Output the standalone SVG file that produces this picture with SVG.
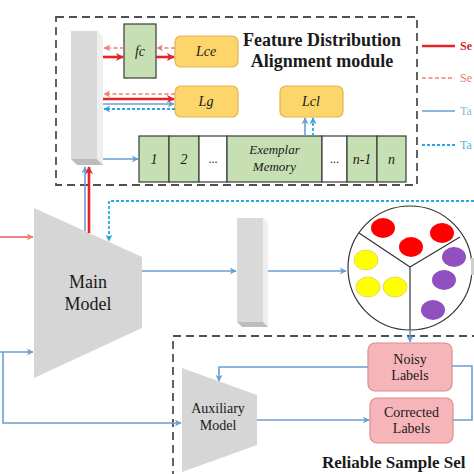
<svg xmlns="http://www.w3.org/2000/svg" width="474" height="474" viewBox="0 0 474 474">
<style>
.serif{font-family:"Liberation Serif","Times New Roman",serif;fill:#1a1a1a}
.it{font-style:italic}
.bold{font-weight:bold}
.dbox{fill:none;stroke:#505050;stroke-width:1.8;stroke-dasharray:8,5}
.red{fill:none;stroke:#e2232a;stroke-width:2.6}
.redthin{fill:none;stroke:#e85a5a;stroke-width:1.5}
.lred{fill:none;stroke:#ef7f72;stroke-width:1.5;stroke-dasharray:4,2.5}
.blue{fill:none;stroke:#6a9ed2;stroke-width:1.6}
.cyan{fill:none;stroke:#2aa7de;stroke-width:1.8;stroke-dasharray:3,2}
.cell{fill:#c6e0b4;stroke:#3a3a3a;stroke-width:1.2}
.white{fill:#ffffff;stroke:#3a3a3a;stroke-width:1.2}
.loss{fill:#fcd56b;stroke:#e3b550;stroke-width:1.2}
.pink{fill:#f6b6b9;stroke:#e08a8e;stroke-width:1.2}
.front{fill:#d9d9d9}
.side{fill:#efefef}
.bottom{fill:#bdbdbd}
.model{fill:#d6d6d6}
</style>
<defs>
<marker id="ar" viewBox="0 0 10 10" refX="9" refY="5" markerWidth="8" markerHeight="8" markerUnits="userSpaceOnUse" orient="auto"><path d="M0,0 L10,5 L0,10 L3,5 z" fill="#e2232a"/></marker>
<marker id="arl" viewBox="0 0 10 10" refX="9" refY="5" markerWidth="7" markerHeight="7" markerUnits="userSpaceOnUse" orient="auto"><path d="M0,0 L10,5 L0,10 L3,5 z" fill="#ef7f72"/></marker>
<marker id="ab" viewBox="0 0 10 10" refX="9" refY="5" markerWidth="7" markerHeight="7" markerUnits="userSpaceOnUse" orient="auto"><path d="M0,0 L10,5 L0,10 L3,5 z" fill="#6a9ed2"/></marker>
<marker id="ac" viewBox="0 0 10 10" refX="9" refY="5" markerWidth="7" markerHeight="7" markerUnits="userSpaceOnUse" orient="auto"><path d="M0,0 L10,5 L0,10 L3,5 z" fill="#2aa7de"/></marker>
</defs>
<rect width="474" height="474" fill="#ffffff"/>

<g id="fda-module">
<rect class="dbox" x="56" y="17" width="361" height="168"/>
<text class="serif bold" x="322" y="46" font-size="18" text-anchor="middle">Feature Distribution</text>
<text class="serif bold" x="322" y="67" font-size="18" text-anchor="middle">Alignment module</text>
</g>

<g id="feature-pillar">
<rect class="front" x="71" y="31" width="26" height="128"/>
<polygon class="side" points="97,31 103,37 103,165 97,159"/>
<polygon class="bottom" points="71,159 97,159 103,165 77,165"/>
</g>

<g id="fc">
<rect class="cell" x="124" y="24" width="32" height="54"/>
<text class="serif it" x="140" y="56" font-size="14" text-anchor="middle">fc</text>
</g>
<g id="Lce">
<rect class="loss" x="175" y="36" width="63" height="31" rx="6"/>
<text class="serif it" x="206" y="56" font-size="14" text-anchor="middle">Lce</text>
</g>
<g id="Lg">
<rect class="loss" x="175" y="86" width="63" height="31" rx="6"/>
<text class="serif it" x="206" y="106" font-size="14" text-anchor="middle">Lg</text>
</g>
<g id="Lcl">
<rect class="loss" x="280" y="86" width="63" height="31" rx="6"/>
<text class="serif it" x="311" y="106" font-size="14" text-anchor="middle">Lcl</text>
</g>

<g id="exemplar-memory">
<rect class="cell" x="139" y="136" width="30" height="46"/>
<rect class="cell" x="169" y="136" width="30" height="46"/>
<rect class="white" x="199" y="136" width="28" height="46"/>
<rect class="cell" x="227" y="136" width="95" height="46"/>
<rect class="white" x="322" y="136" width="25" height="46"/>
<rect class="cell" x="347" y="136" width="30" height="46"/>
<rect class="cell" x="377" y="136" width="29" height="46"/>
<text class="serif it" x="154" y="164" font-size="14" text-anchor="middle">1</text>
<text class="serif it" x="184" y="164" font-size="14" text-anchor="middle">2</text>
<text class="serif" x="213" y="163" font-size="12" text-anchor="middle">...</text>
<text class="serif it" x="274.5" y="154" font-size="13" text-anchor="middle">Exemplar</text>
<text class="serif it" x="274.5" y="171" font-size="13" text-anchor="middle">Memory</text>
<text class="serif" x="334.5" y="163" font-size="12" text-anchor="middle">...</text>
<text class="serif it" x="362" y="164" font-size="14" text-anchor="middle">n-1</text>
<text class="serif it" x="391.5" y="164" font-size="14" text-anchor="middle">n</text>
</g>

<g id="legend">
<path class="red" d="M422,46 H455"/>
<text class="serif bold" x="460" y="50" font-size="12" style="fill:#c9262c">Se</text>
<path class="lred" d="M422,78 H455"/>
<text class="serif" x="460" y="82" font-size="12" style="fill:#e8806a">Se</text>
<path class="blue" d="M422,111 H455"/>
<text class="serif" x="460" y="115" font-size="12" style="fill:#8fb6d8">Ta</text>
<path class="cyan" d="M422,145 H455"/>
<text class="serif" x="460" y="149" font-size="12" style="fill:#4fb3dc">Ta</text>
</g>

<g id="main-model">
<polygon class="model" points="34,208 142,257 142,328 34,378"/>
<text class="serif" x="88" y="288" font-size="18" text-anchor="middle">Main</text>
<text class="serif" x="88" y="310" font-size="18" text-anchor="middle">Model</text>
</g>

<g id="feature-pillar-2">
<rect class="front" x="237" y="218" width="26" height="104"/>
<polygon class="side" points="263,218 268,223 268,327 263,322"/>
<polygon class="bottom" points="237,322 263,322 268,327 242,327"/>
</g>

<g id="clusters">
<circle cx="410" cy="268" r="62" fill="#ffffff" stroke="#333" stroke-width="1.2"/>
<path d="M410,267 L359,233 M410,267 L460,237 M410,267 V330" stroke="#333" stroke-width="1.2" fill="none"/>
<ellipse cx="383" cy="228" rx="12" ry="10" fill="#ff0000"/>
<ellipse cx="411" cy="247" rx="12" ry="10" fill="#ff0000"/>
<ellipse cx="442" cy="233" rx="12" ry="10" fill="#ff0000"/>
<ellipse cx="366" cy="260" rx="12" ry="10" fill="#ffff00" stroke="#d6cf60" stroke-width="0.8"/>
<ellipse cx="368" cy="287" rx="12" ry="10" fill="#ffff00" stroke="#d6cf60" stroke-width="0.8"/>
<ellipse cx="395" cy="287" rx="12" ry="10" fill="#ffff00" stroke="#d6cf60" stroke-width="0.8"/>
<ellipse cx="454" cy="257" rx="12" ry="10" fill="#9050c0"/>
<ellipse cx="444" cy="280" rx="12" ry="10" fill="#9050c0"/>
<ellipse cx="433" cy="310" rx="12" ry="10" fill="#9050c0"/>
</g>
<polygon points="471,258 474,258 474,275 471,275" fill="#cfcfcf"/>

<g id="reliable-sample-selection">
<path class="dbox" d="M480,336 H173 V480"/>
<text class="serif bold" x="322" y="468" font-size="17">Reliable Sample Sel</text>
</g>

<g id="auxiliary-model">
<polygon class="model" points="182,368 257,395 257,445 182,472"/>
<text class="serif" x="218" y="413" font-size="14" text-anchor="middle">Auxiliary</text>
<text class="serif" x="218" y="430" font-size="14" text-anchor="middle">Model</text>
</g>

<g id="noisy-labels">
<rect class="pink" x="368" y="343" width="84" height="48" rx="7"/>
<text class="serif" x="410" y="364" font-size="14" text-anchor="middle">Noisy</text>
<text class="serif" x="410" y="380" font-size="14" text-anchor="middle">Labels</text>
</g>
<g id="corrected-labels">
<rect class="pink" x="370" y="398" width="83" height="45" rx="7"/>
<text class="serif" x="411.5" y="417" font-size="14" text-anchor="middle">Corrected</text>
<text class="serif" x="411.5" y="433" font-size="14" text-anchor="middle">Labels</text>
</g>

<g id="connectors">
<path class="lred" d="M124,48 H104" marker-end="url(#arl)"/>
<path class="red" d="M103,57 H123" marker-end="url(#ar)"/>
<path class="lred" d="M175,48 H157" marker-end="url(#arl)"/>
<path class="red" d="M156,57 H174" marker-end="url(#ar)"/>
<path class="lred" d="M175,94 H104" marker-end="url(#arl)"/>
<path class="red" d="M103,99 H174" marker-end="url(#ar)"/>
<path class="blue" d="M103,104 H174" marker-end="url(#ab)"/>
<path class="cyan" d="M175,109 H104" marker-end="url(#ac)"/>
<path class="blue" d="M103,159 H138" marker-end="url(#ab)"/>
<path class="blue" d="M305,136 V118" marker-end="url(#ab)"/>
<path class="cyan" d="M313,136 V118" marker-end="url(#ac)"/>
<path class="blue" d="M85,231 V167" marker-end="url(#ab)"/>
<path class="red" d="M89,233 V167" marker-end="url(#ar)"/>
<path class="cyan" d="M474,201 H109 V241" marker-end="url(#ac)"/>
<path class="redthin" d="M0,237 H33" marker-end="url(#arl)"/>
<path class="blue" d="M0,352 H33" marker-end="url(#ab)"/>
<path class="blue" d="M3,352 V423 H181" marker-end="url(#ab)"/>
<path class="blue" d="M142,271 H236" marker-end="url(#ab)"/>
<path class="blue" d="M268,271 H346" marker-end="url(#ab)"/>
<path class="blue" d="M410,330 V342" marker-end="url(#ab)"/>
<path class="blue" d="M368,367 H219 V381" marker-end="url(#ab)"/>
<path class="blue" d="M257,420 H369" marker-end="url(#ab)"/>
<path class="blue" d="M452,366 H472 V420 H453"/>
</g>
</svg>
